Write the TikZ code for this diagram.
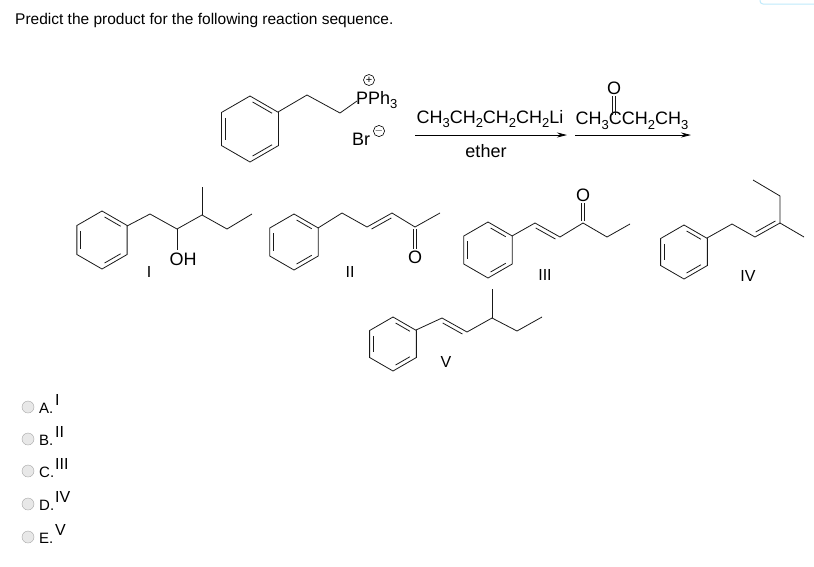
\documentclass[tikz,border=0pt]{standalone}
\usepackage{fontspec}
\setmainfont{Liberation Sans}
\usetikzlibrary{calc,arrows.meta}
\newcommand\benz[4]{% name, x, y, r
 \coordinate (#1) at (#2,#3);
 \draw[bond] ($(#1)+(90:#4)$) -- ($(#1)+(30:#4)$) -- ($(#1)+(-30:#4)$) -- ($(#1)+(-90:#4)$) -- ($(#1)+(-150:#4)$) -- ($(#1)+(150:#4)$) -- cycle;
 \foreach \a/\b in {90/30,-30/-90,-150/150}{
  \draw[bond,shorten <=3pt,shorten >=3pt] ($(#1)+(\a:#4-4.5)$) -- ($(#1)+(\b:#4-4.5)$);}
}
\newcommand\dbl[3]{\draw[bond,shorten <=3pt,shorten >=3pt] ($(#1)!4pt!#3:(#2)$) -- ($(#2)!4pt!-#3:(#1)$);}
\newcommand\sub[1]{\raisebox{-0.25em}{\fontsize{13}{13}\selectfont #1}}
\begin{document}
\begin{tikzpicture}[x=1pt,y=-1pt,
 bond/.style={line width=0.8pt,gray!20!black},
 lbl/.style={font=\fontsize{18}{20}\selectfont,inner sep=0pt},
 num/.style={font=\fontsize{16}{18}\selectfont,inner sep=0pt},
 opt/.style={font=\fontsize{15}{18}\selectfont,inner sep=0pt},
 radio/.style={circle,draw=gray!70,fill=gray!18,minimum size=12pt,inner sep=0pt},
 chg/.style={draw,circle,inner sep=0pt,minimum size=11pt,line width=0.6pt,font=\fontsize{11}{11}\selectfont},
 arr/.style={line width=0.8pt,-{Stealth[length=10pt,width=5pt]}}]
\useasboundingbox (0,0) rectangle (814,566);
\fill[white] (0,0) rectangle (814,566);
\draw[cyan!25,rounded corners=3pt,line width=1pt] (760,-5) -- (760,4) -- (820,4);
\node[anchor=west,font=\fontsize{15.5}{18}\selectfont,inner sep=0pt] (title) at (15,20) {Predict the product for the following reaction sequence.};
% reactant
\benz{r0}{250}{129}{33}
\coordinate (ra) at (278,112); \coordinate (rb) at (307,95); \coordinate (rc) at (340,113); \coordinate (rp) at (357,101);
\draw[bond] (ra)--(rb)--(rc)--(rp);
\node[lbl,anchor=west] (pph) at (356,100) {PPh\sub{3}};
\node[chg] (plus) at (369,80) {+};
\node[lbl] (br) at (361,139) {Br};
\node[chg] (minus) at (379,131) {$-$};
% arrows
\coordinate (a1s) at (415,135); \coordinate (a1e) at (567,135);
\coordinate (a2s) at (575,135); \coordinate (a2e) at (691,135);
\draw[arr] (a1s) -- (a1e); \draw[arr] (a2s) -- (a2e);
\node[lbl] (bul) at (490,119) {CH\sub{3}CH\sub{2}CH\sub{2}CH\sub{2}Li};
\node[lbl] (eth) at (486,151) {ether};
\node[lbl] (ket) at (632,121) {CH\sub{3}CCH\sub{2}CH\sub{3}};
\node[lbl] (ko) at (614,88) {O};
\draw[bond] (612.3,96) -- (612.3,115); \draw[bond] (615.7,96) -- (615.7,115);
% I
\benz{p1}{102}{240}{29}
\coordinate (i0) at (127,226); \coordinate (i1) at (150,214); \coordinate (i2) at (177,229); \coordinate (i3) at (202,215);
\coordinate (i4) at (202,187); \coordinate (i5) at (227,229); \coordinate (i6) at (252,214); \coordinate (i7) at (177,250);
\draw[bond] (i0)--(i1)--(i2)--(i3)--(i5)--(i6); \draw[bond] (i3)--(i4); \draw[bond] (i2)--(i7);
\node[lbl] (oh) at (183,259) {OH};
\node[num] (l1) at (149,272) {I};
% II
\benz{p2}{294}{242}{28}
\coordinate (j0) at (318,228); \coordinate (j1) at (342,213); \coordinate (j2) at (367,227); \coordinate (j3) at (392,213);
\coordinate (j4) at (415,227); \coordinate (j5) at (440,213);
\draw[bond] (j0)--(j1)--(j2)--(j3)--(j4)--(j5); \dbl{j2}{j3}{-90}
\draw[bond] (413.3,229) -- (413.3,249); \draw[bond] (416.7,229) -- (416.7,249);
\node[lbl] (o2) at (415,257) {O};
\node[num] (l2) at (350,272) {II};
% III
\benz{p3}{488}{250}{28}
\coordinate (k0) at (512,236); \coordinate (k1) at (535,223); \coordinate (k2) at (560,237); \coordinate (k3) at (583,223);
\coordinate (k4) at (607,237); \coordinate (k5) at (630,224);
\draw[bond] (k0)--(k1)--(k2)--(k3)--(k4)--(k5); \dbl{k1}{k2}{-90}
\draw[bond] (581.3,221) -- (581.3,203); \draw[bond] (584.7,221) -- (584.7,203);
\node[lbl] (o3) at (583,195) {O};
\node[num] (l3) at (545,275) {III};
% IV
\benz{p4}{684}{252}{27}
\coordinate (m0) at (707,238); \coordinate (m1) at (732,224); \coordinate (m2) at (755,237); \coordinate (m3) at (780,223);
\coordinate (m4) at (780,196); \coordinate (m5) at (753,180); \coordinate (m6) at (804,237);
\draw[bond] (m0)--(m1)--(m2)--(m3)--(m4)--(m5); \draw[bond] (m3)--(m6); \dbl{m2}{m3}{90}
\node[num] (l4) at (748,276) {IV};
% V
\benz{p5}{393}{344}{27}
\coordinate (n0) at (416,330); \coordinate (n1) at (442,318); \coordinate (n2) at (467,332); \coordinate (n3) at (492,318);
\coordinate (n4) at (492,289); \coordinate (n5) at (517,331); \coordinate (n6) at (542,317);
\draw[bond] (n0)--(n1)--(n2)--(n3)--(n5)--(n6); \draw[bond] (n3)--(n4); \dbl{n1}{n2}{-90}
\node[num] (l5) at (446,362) {V};
% options
\foreach \y/\L/\R [count=\i] in {407/A/I,439/B/II,471/C/III,504/D/IV,537/E/V}{
 \node[radio] (rb\i) at (28,\y) {};
 \node[opt,anchor=west] (ol\i) at (39,\y+1) {\L.};
 \node[num,anchor=west] (or\i) at (55,\y-7) {\R};
}
\end{tikzpicture}
\end{document}
